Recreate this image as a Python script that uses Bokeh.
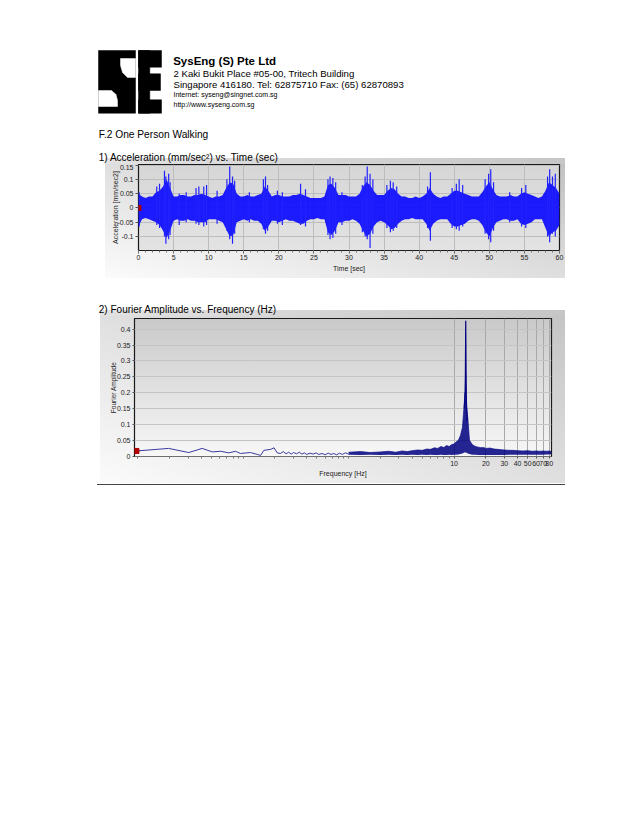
from bokeh.plotting import figure
from bokeh.layouts import column
from bokeh.models import Range1d, FixedTicker, CustomJSTickFormatter
from bokeh.core.properties import value
from bokeh.embed import file_html
from bokeh.resources import INLINE

FONT = "Liberation Sans"
PAGE_W = 638

# ---------------- data: acceleration record (envelope read every 0.5 s) ----------------
t_env = [i * 0.5 for i in range(121)]
acc_upper = [
    0.05, 0.04, 0.035, 0.04, 0.04, 0.055, 0.06, 0.075, 0.1, 0.07,
    0.04, 0.04, 0.045, 0.045, 0.04, 0.04, 0.045, 0.045, 0.05, 0.045,
    0.04, 0.035, 0.04, 0.04, 0.045, 0.07, 0.09, 0.085, 0.05, 0.04,
    0.04, 0.045, 0.04, 0.04, 0.045, 0.05, 0.075, 0.06, 0.04, 0.045,
    0.045, 0.04, 0.04, 0.04, 0.045, 0.045, 0.05, 0.045, 0.04, 0.035,
    0.035, 0.035, 0.035, 0.04, 0.08, 0.085, 0.07, 0.045, 0.045, 0.045,
    0.04, 0.04, 0.04, 0.05, 0.075, 0.09, 0.08, 0.06, 0.045, 0.045,
    0.045, 0.06, 0.07, 0.065, 0.05, 0.04, 0.04, 0.035, 0.035, 0.04,
    0.035, 0.04, 0.05, 0.07, 0.05, 0.04, 0.035, 0.04, 0.04, 0.05,
    0.06, 0.06, 0.055, 0.05, 0.045, 0.04, 0.04, 0.04, 0.055, 0.075,
    0.09, 0.065, 0.045, 0.04, 0.04, 0.04, 0.045, 0.04, 0.04, 0.05,
    0.055, 0.05, 0.045, 0.04, 0.035, 0.04, 0.06, 0.09, 0.08, 0.07,
    0.05,
]
acc_lower = [
    -0.065, -0.04, -0.035, -0.04, -0.045, -0.05, -0.06, -0.08, -0.105, -0.08,
    -0.045, -0.04, -0.045, -0.045, -0.04, -0.045, -0.045, -0.05, -0.05, -0.05,
    -0.04, -0.04, -0.04, -0.045, -0.05, -0.075, -0.1, -0.095, -0.05, -0.045,
    -0.04, -0.045, -0.04, -0.045, -0.045, -0.055, -0.08, -0.065, -0.045, -0.045,
    -0.05, -0.045, -0.04, -0.045, -0.045, -0.05, -0.055, -0.055, -0.045, -0.04,
    -0.04, -0.035, -0.04, -0.04, -0.085, -0.095, -0.08, -0.05, -0.05, -0.045,
    -0.045, -0.04, -0.045, -0.055, -0.08, -0.1, -0.09, -0.065, -0.05, -0.045,
    -0.05, -0.06, -0.075, -0.07, -0.055, -0.045, -0.04, -0.04, -0.035, -0.04,
    -0.04, -0.04, -0.055, -0.08, -0.055, -0.045, -0.04, -0.04, -0.04, -0.055,
    -0.065, -0.065, -0.06, -0.055, -0.045, -0.04, -0.04, -0.045, -0.06, -0.085,
    -0.1, -0.07, -0.05, -0.045, -0.04, -0.04, -0.045, -0.045, -0.04, -0.055,
    -0.06, -0.055, -0.05, -0.04, -0.04, -0.04, -0.07, -0.1, -0.085, -0.08,
    -0.06,
]
spike_t = [0.1, 2.6, 3.0, 3.7, 3.9, 4.3, 4.5, 5.8, 6.8, 8.2, 8.6, 9.3, 9.7, 11.2,
           12.6, 13.0, 13.4, 13.7, 15.8, 17.8, 18.1, 18.4, 19.8, 20.5, 23.1, 23.8,
           27.0, 27.3, 27.7, 28.1, 29.0, 31.9, 32.3, 32.6, 33.0, 33.4, 35.4, 35.9,
           36.3, 36.8, 41.2, 41.6, 44.7, 45.3, 45.7, 46.2, 49.4, 49.9, 50.2, 50.6,
           52.9, 54.6, 55.2, 58.3, 58.6, 59.0, 59.4]
spike_hi = [0.055, 0.075, 0.085, 0.13, 0.11, 0.12, 0.09, 0.05, 0.055, 0.07, 0.075, 0.075, 0.08, 0.06,
            0.1, 0.145, 0.11, 0.095, 0.055, 0.1, 0.11, 0.08, 0.06, 0.055, 0.085, 0.065,
            0.1, 0.11, 0.105, 0.09, 0.055, 0.08, 0.11, 0.145, 0.12, 0.1, 0.08, 0.095,
            0.09, 0.075, 0.075, 0.125, 0.07, 0.085, 0.1, 0.08, 0.1, 0.12, 0.135, 0.09,
            0.055, 0.07, 0.08, 0.11, 0.135, 0.11, 0.12]
spike_lo = [-0.065, -0.06, -0.07, -0.1, -0.125, -0.11, -0.095, -0.06, -0.05, -0.055, -0.06, -0.065, -0.06, -0.055,
            -0.08, -0.11, -0.125, -0.09, -0.05, -0.075, -0.09, -0.08, -0.055, -0.06, -0.06, -0.065,
            -0.095, -0.11, -0.105, -0.09, -0.06, -0.085, -0.1, -0.11, -0.14, -0.09, -0.07, -0.085,
            -0.08, -0.07, -0.07, -0.115, -0.07, -0.075, -0.08, -0.065, -0.09, -0.11, -0.12, -0.08,
            -0.05, -0.065, -0.07, -0.1, -0.12, -0.09, -0.1]
acc_start_t = [0.0]
acc_start_v = [0.0]
time_ticks = [0, 5, 10, 15, 20, 25, 30, 35, 40, 45, 50, 55, 60]
time_minor = list(range(0, 61))
acc_ticks = [-0.1, -0.05, 0, 0.05, 0.1, 0.15]

# ---------------- data: Fourier amplitude spectrum ----------------
f_low = [0.0097, 0.0196, 0.0304, 0.0408, 0.0508, 0.061, 0.073, 0.0845, 0.094, 0.117,
         0.136, 0.146, 0.157, 0.182, 0.196, 0.21, 0.225, 0.24, 0.255, 0.27,
         0.285, 0.3, 0.32, 0.34, 0.36, 0.38, 0.40, 0.43, 0.46, 0.49,
         0.52, 0.56, 0.6, 0.64, 0.68, 0.72, 0.77, 0.82, 0.87, 0.93, 1.0]
amp_low = [0.016, 0.024, 0.011, 0.024, 0.013, 0.015, 0.010, 0.015, 0.008, 0.011,
           0.005, 0.002, 0.018, 0.021, 0.026, 0.010, 0.008, 0.014, 0.007, 0.012,
           0.006, 0.011, 0.007, 0.012, 0.006, 0.010, 0.005, 0.009, 0.006, 0.010,
           0.005, 0.008, 0.004, 0.009, 0.005, 0.008, 0.004, 0.009, 0.005, 0.010, 0.006]
f_env = [1.0, 1.3, 1.6, 2.0, 2.4, 2.8, 3.2, 3.6, 4.0,
         4.5, 5.0, 5.5, 6.0, 6.5, 7.0, 7.5, 8.0, 8.5, 9.0, 9.5,
         10.0, 10.5, 11.0, 11.5, 12.0, 12.4, 12.7, 13.1, 13.5, 14.0,
         14.5, 15.0, 16.0, 17.0, 18.0, 19.0, 20.0,
         22.0, 24.0, 26.0, 28.0, 30.0,
         33.0, 36.0, 40.0, 45.0, 50.0,
         55.0, 60.0, 65.0, 70.0, 75.0, 80.0, 84.0]
amp_env_hi = [0.012, 0.014, 0.011, 0.013, 0.015, 0.012, 0.016, 0.014, 0.017,
              0.019, 0.018, 0.022, 0.021, 0.026, 0.024, 0.03, 0.027, 0.033, 0.03, 0.036,
              0.038, 0.045, 0.05, 0.065, 0.09, 0.15, 0.2, 0.16, 0.12, 0.05,
              0.042, 0.035, 0.03, 0.028, 0.026, 0.027, 0.024,
              0.025, 0.022, 0.021, 0.02, 0.019,
              0.018, 0.018, 0.017, 0.016, 0.017,
              0.015, 0.016, 0.015, 0.016, 0.015, 0.016, 0.014]
amp_env_lo = [0.004, 0.003, 0.004, 0.003, 0.004, 0.003, 0.004, 0.003, 0.004,
              0.003, 0.004, 0.003, 0.004, 0.003, 0.003, 0.004, 0.003, 0.003, 0.004, 0.003,
              0.004, 0.004, 0.005, 0.006, 0.008, 0.01, 0.012, 0.01, 0.008, 0.006,
              0.005, 0.004, 0.004, 0.003, 0.003, 0.003, 0.003,
              0.003, 0.003, 0.003, 0.003, 0.003,
              0.004, 0.004, 0.004, 0.004, 0.004,
              0.004, 0.004, 0.004, 0.004, 0.005, 0.005, 0.006]
f_peak = [12.5, 12.7, 12.8, 12.9, 13.0, 13.1, 13.3]
amp_peak = [0.15, 0.19, 0.25, 0.427, 0.27, 0.17, 0.11]
freq_ticks = [10, 20, 30, 40, 50, 60, 70, 80]
freq_minor = [m * d for d in (0.01, 0.1, 1.0) for m in range(1, 10)]
amp_ticks = [0, 0.05, 0.1, 0.15, 0.2, 0.25, 0.3, 0.35, 0.4]

# ---------------- header texts ----------------
company = "SysEng (S) Pte Ltd"
address_lines = ["2 Kaki Bukit Place #05-00, Tritech Building",
                 "Singapore 416180. Tel: 62875710  Fax: (65) 62870893"]
web_lines = ["Internet: syseng@singnet.com.sg", "http://www.syseng.com.sg"]
section_title = "F.2 One Person Walking"
chart1_title = "1) Acceleration (mm/sec\u00b2) vs. Time (sec)"
chart2_title = "2) Fourier Amplitude vs. Frequency (Hz)"

# logo shapes (page pixel coordinates)
logo_black = [
    ([98, 135, 135, 98], [50, 50, 112.7, 112.7]),
    ([138, 149.3, 149.3, 138], [50, 50, 112.7, 112.7]),
    ([138, 161, 161, 138], [50, 50, 66.7, 66.7]),
    ([138, 160, 160, 138], [73.3, 73.3, 90, 90]),
    ([138, 161, 161, 138], [99.3, 99.3, 112.7, 112.7]),
]
logo_white = [
    ([120, 135, 135, 127, 122, 120], [58, 58, 77, 77, 72, 65]),
    ([98, 111, 115.5, 117, 117, 98], [90, 90, 94, 100, 106, 106]),
]

PANEL_TOP_GRAD = "linear-gradient(to left, #c6c6c6, #e2e2e2)"


def text_fig(height, y_top, y_bottom):
    f = figure(width=PAGE_W, height=height, x_range=Range1d(0, PAGE_W),
               y_range=Range1d(y_bottom, y_top), x_axis_location=None,
               y_axis_location=None, toolbar_location=None, output_backend="svg",
               min_border=0, title=None)
    f.frame_align = False
    f.outline_line_color = None
    f.grid.visible = False
    f.border_fill_color = None
    f.background_fill_color = None
    return f


def put(f, x, y, s, size, bold=False):
    f.text(x=[x], y=[y], text=[s], text_font=value(FONT), text_font_size=size,
           text_font_style="bold" if bold else "normal", text_baseline="alphabetic",
           text_align="left", text_color="#000000")


hdr = text_fig(164, 0, 164)
hdr.styles = {"background": PANEL_TOP_GRAD + " 105px 158px / 460px 6px no-repeat"}
hdr.patches(xs=[b[0] for b in logo_black], ys=[b[1] for b in logo_black],
            fill_color="black", line_color="black", line_width=0.5)
hdr.patches(xs=[w[0] for w in logo_white], ys=[w[1] for w in logo_white],
            fill_color="white", line_color="white", line_width=0.5)
put(hdr, 172.7, 60.7, company, "11.5px", bold=True)
put(hdr, 173, 73.3, address_lines[0], "9.6px")
put(hdr, 173, 84.3, address_lines[1], "9.6px")
put(hdr, 173, 94.3, web_lines[0], "7px")
put(hdr, 173, 104, web_lines[1], "7px")
put(hdr, 98.3, 134, section_title, "10.2px")
put(hdr, 98.3, 157, chart1_title, "10px")

mid = text_fig(34, 282, 316)
mid.styles = {"background": PANEL_TOP_GRAD + " 100px 28px / 465px 6px no-repeat"}
put(mid, 98.3, 308.5, chart2_title, "10px")


def style_axes(f, grid_color_x, grid_color_y):
    f.frame_align = False
    for ax in (f.xaxis, f.yaxis):
        ax.axis_line_color = None
        ax.major_tick_in = 0
        ax.major_tick_out = 3
        ax.major_tick_line_color = "#555555"
        ax.minor_tick_in = 0
        ax.minor_tick_out = 2
        ax.minor_tick_line_color = "#777777"
        ax.major_label_text_font = FONT
        ax.major_label_text_font_size = "7px"
        ax.major_label_text_color = "#222222"
        ax.axis_label_text_font = FONT
        ax.axis_label_text_font_style = "normal"
        ax.axis_label_text_color = "#222222"
    f.xgrid.grid_line_color = grid_color_x
    f.ygrid.grid_line_color = grid_color_y
    f.border_fill_color = None
    f.background_fill_color = None
    f.outline_line_color = "#1a1a1a"
    f.outline_line_width = 1.2


# ---------------- chart 1: acceleration vs time ----------------
p1 = figure(width=PAGE_W, height=118, x_range=Range1d(0, 60), y_range=Range1d(-0.149, 0.152),
            toolbar_location=None, output_backend="svg", title=None,
            min_border_left=138, min_border_right=79, min_border_top=0, min_border_bottom=32)
style_axes(p1, "#bdbdbd", "#bdbdbd")
p1.styles = {"background": (
    "linear-gradient(to bottom, #d6d6d6, #e3e3e3) 138px 0px / 421px 86px no-repeat, "
    "linear-gradient(to bottom left, #c2c2c2, #fbfbfb) 105px 0px / 460px 114px no-repeat")}
p1.xaxis.ticker = FixedTicker(ticks=time_ticks, minor_ticks=time_minor)
p1.yaxis.ticker = FixedTicker(ticks=acc_ticks)
p1.yaxis.formatter = CustomJSTickFormatter(code="return String(Math.round(tick*1000)/1000);")
p1.xaxis.axis_label = "Time [sec]"
p1.yaxis.axis_label = "Acceleration [mm/sec2]"
p1.xaxis.axis_label_text_font_size = "7px"
p1.yaxis.axis_label_text_font_size = "7px"
p1.xaxis.major_label_standoff = 1
p1.xaxis.axis_label_standoff = 2
p1.yaxis.major_label_standoff = 2
p1.yaxis.axis_label_standoff = -4
p1.varea(x=t_env, y1=acc_lower, y2=acc_upper, fill_color="#0a0aff", fill_alpha=0.92)
p1.segment(x0=spike_t, y0=spike_lo, x1=spike_t, y1=spike_hi, line_color="#2222ff", line_width=1.2)
p1.scatter(x=acc_start_t, y=acc_start_v, marker="square", size=5, color="#b00000")

# ---------------- chart 2: Fourier amplitude vs frequency ----------------
p2 = figure(width=PAGE_W, height=172, x_axis_type="log", x_range=Range1d(0.0093, 84),
            y_range=Range1d(-0.0015, 0.434), toolbar_location=None, output_backend="svg",
            title=None, min_border_left=134, min_border_right=87, min_border_top=2,
            min_border_bottom=32)
style_axes(p2, "#a9a9a9", "#c4c4c4")
p2.styles = {"background": (
    "linear-gradient(#444444, #444444) 97px 168px / 468px 1px no-repeat, "
    "linear-gradient(to bottom, #c9c9c9, #f7f7f7) 134px 2px / 417px 138px no-repeat, "
    "linear-gradient(to bottom left, #c4c4c4, #fbfbfb) 100px 0px / 465px 167px no-repeat")}
p2.xaxis.ticker = FixedTicker(ticks=freq_ticks, minor_ticks=freq_minor)
p2.xaxis.formatter = CustomJSTickFormatter(code="return String(Math.round(tick));")
p2.yaxis.ticker = FixedTicker(ticks=amp_ticks)
p2.yaxis.formatter = CustomJSTickFormatter(code="return String(Math.round(tick*1000)/1000);")
p2.xaxis.axis_label = "Frequency [Hz]"
p2.yaxis.axis_label = "Fourier Amplitude"
p2.xaxis.axis_label_text_font_size = "7px"
p2.yaxis.axis_label_text_font_size = "6.5px"
p2.xaxis.major_tick_out = 2
p2.xaxis.major_label_standoff = 2
p2.xaxis.axis_label_standoff = 1
p2.yaxis.major_tick_out = 2
p2.yaxis.major_label_standoff = 2
p2.yaxis.axis_label_standoff = -3
p2.line(x=f_low, y=amp_low, line_color="#3a3aa0", line_width=1)
p2.varea(x=f_env, y1=amp_env_lo, y2=amp_env_hi, fill_color="#000080", fill_alpha=0.85)
p2.line(x=f_env, y=amp_env_hi, line_color="#10108a", line_width=0.7)
p2.line(x=f_peak, y=amp_peak, line_color="#000080", line_width=1.2)
p2.scatter(x=f_low[:1], y=amp_low[:1], marker="square", size=5, color="#b00000")

layout = column(hdr, p1, mid, p2, spacing=0)
open("out.html", "w").write(file_html(layout, INLINE))
